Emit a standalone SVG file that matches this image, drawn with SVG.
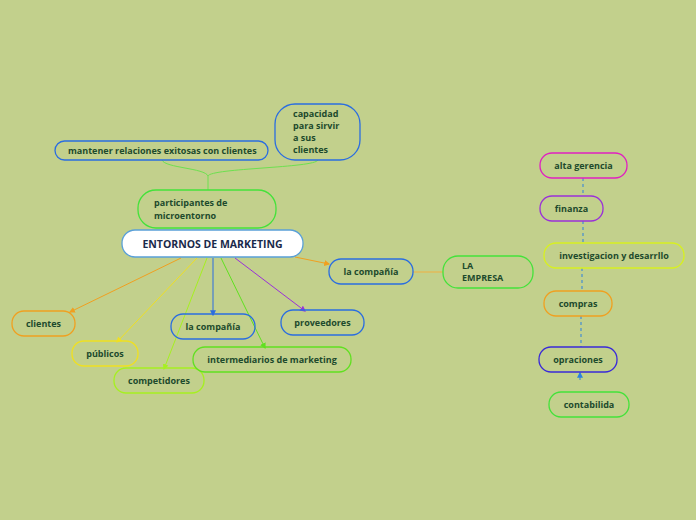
<svg xmlns="http://www.w3.org/2000/svg" width="696" height="520" viewBox="0 0 696 520">
<defs>
<style>
.n{stroke-width:1.3}
.t{font-family:"Open Sans","Noto Sans",sans-serif;font-size:9px;font-weight:700;fill:#1d4a2c}
.c{fill:none;stroke-width:1}
</style>
<marker id="a" viewBox="0 0 10 10" refX="8" refY="5" markerWidth="6" markerHeight="6" orient="auto"><path d="M0,0 L10,5 L0,10 z" fill="context-stroke"/></marker>
</defs>
<rect width="696" height="520" fill="#c2d08c"/>
<g id="connectors">
<path class="c" stroke="#6ee050" d="M162,160 C165,168 205,168 208,176 C211,168 315,168 318,160 M208,176 V190"/>
<path class="c" stroke="#f0a020" d="M181,258 L70,312" marker-end="url(#a)"/>
<path class="c" stroke="#f0e020" d="M197,258 L117,342" marker-end="url(#a)"/>
<path class="c" stroke="#a6f020" d="M207,258 L164,369" marker-end="url(#a)"/>
<path class="c" stroke="#2a6de0" d="M213,258 V315" marker-end="url(#a)"/>
<path class="c" stroke="#60e020" d="M221,258 L265,348" marker-end="url(#a)"/>
<path class="c" stroke="#9a30d8" d="M235,258 L305,311" marker-end="url(#a)"/>
<path class="c" stroke="#f0a020" d="M295,257 L329,264" marker-end="url(#a)"/>
<path class="c" stroke="#f0b040" d="M413,272 H443"/>
<path class="c" stroke="#2a80e0" stroke-dasharray="3,3" d="M583,178 V196 M583,221 V243 M582,268 V291 M581,316 V347"/>
<path class="c" stroke="#2a80e0" d="M580,380 V373" marker-end="url(#a)"/>
</g>
<g id="n1"><rect class="n" x="55" y="141" width="213" height="19" rx="9.5" fill="none" stroke="#2a6de0"/><text class="t" x="68" y="154">mantener relaciones exitosas con clientes</text></g>
<g id="n2"><rect class="n" x="275" y="104" width="85" height="56" rx="20" fill="none" stroke="#2a6de0"/><text class="t" x="293" y="117">capacidad</text><text class="t" x="293" y="129">para sirvir</text><text class="t" x="293" y="141">a sus</text><text class="t" x="293" y="153">clientes</text></g>
<g id="n3"><rect class="n" x="138" y="190" width="138" height="38" rx="18" fill="none" stroke="#44e23a"/><text class="t" x="154" y="206">participantes de</text><text class="t" x="154" y="219">microentorno</text></g>
<g id="n4"><rect x="122" y="230" width="181" height="27" rx="13" fill="#fff" stroke="#5aa0d8" stroke-width="1.3"/><text class="t" x="212.5" y="247.5" text-anchor="middle" style="font-size:10.5px;fill:#1a2a4a">ENTORNOS DE MARKETING</text></g>
<g id="n5"><rect class="n" x="329" y="259" width="84" height="25" rx="12" fill="none" stroke="#2a6de0"/><text class="t" x="371" y="275" text-anchor="middle">la compañía</text></g>
<g id="n6"><rect class="n" x="443" y="256" width="90" height="32" rx="15" fill="none" stroke="#44e23a"/><text class="t" x="462" y="269">LA</text><text class="t" x="462" y="281">EMPRESA</text></g>
<g id="n7"><rect class="n" x="12" y="311" width="63" height="25" rx="12" fill="none" stroke="#f0a020"/><text class="t" x="43.5" y="327" text-anchor="middle">clientes</text></g>
<g id="n8"><rect class="n" x="72" y="341" width="66" height="25" rx="12" fill="none" stroke="#f0e020"/><text class="t" x="105" y="357" text-anchor="middle">públicos</text></g>
<g id="n9"><rect class="n" x="114" y="368" width="90" height="25" rx="12" fill="none" stroke="#a6f020"/><text class="t" x="159" y="384" text-anchor="middle">competidores</text></g>
<g id="n10"><rect class="n" x="171" y="314" width="84" height="25" rx="12" fill="none" stroke="#2a6de0"/><text class="t" x="213" y="330" text-anchor="middle">la compañía</text></g>
<g id="n11"><rect class="n" x="193" y="347" width="158" height="25" rx="12" fill="none" stroke="#60e020"/><text class="t" x="272" y="363" text-anchor="middle">intermediarios de marketing</text></g>
<g id="n12"><rect class="n" x="281" y="310" width="83" height="25" rx="12" fill="none" stroke="#2a6de0"/><text class="t" x="322.5" y="326" text-anchor="middle">proveedores</text></g>
<g id="n13"><rect class="n" x="540" y="153" width="87" height="25" rx="12" fill="none" stroke="#e020c0"/><text class="t" x="583.5" y="169" text-anchor="middle">alta gerencia</text></g>
<g id="n14"><rect class="n" x="540" y="196" width="63" height="25" rx="12" fill="none" stroke="#9a30d8"/><text class="t" x="571.5" y="212" text-anchor="middle">finanza</text></g>
<g id="n15"><rect class="n" x="544" y="243" width="140" height="25" rx="12" fill="none" stroke="#d8f020"/><text class="t" x="614" y="259" text-anchor="middle">investigacion y desarrllo</text></g>
<g id="n16"><rect class="n" x="544" y="291" width="68" height="25" rx="12" fill="none" stroke="#f0a020"/><text class="t" x="578" y="307" text-anchor="middle">compras</text></g>
<g id="n17"><rect class="n" x="539" y="347" width="78" height="25" rx="12" fill="none" stroke="#3a2ad8"/><text class="t" x="578" y="363" text-anchor="middle">opraciones</text></g>
<g id="n18"><rect class="n" x="549" y="392" width="80" height="25" rx="12" fill="none" stroke="#44e23a"/><text class="t" x="589" y="408" text-anchor="middle">contabilida</text></g>
</svg>
